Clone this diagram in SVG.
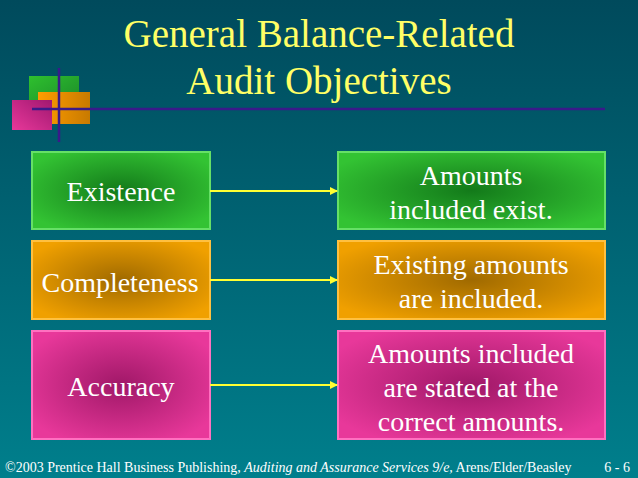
<svg xmlns="http://www.w3.org/2000/svg" width="638" height="478" viewBox="0 0 638 478">
<defs>
<linearGradient id="bg" x1="0" y1="0" x2="0" y2="1"><stop offset="0" stop-color="#004a5c"/><stop offset="1" stop-color="#007f8c"/></linearGradient>
<radialGradient id="gG" cx="0.5" cy="0.5" r="0.6"><stop offset="0" stop-color="#137a1a"/><stop offset="1" stop-color="#33c333"/></radialGradient>
<radialGradient id="gO" cx="0.5" cy="0.5" r="0.6"><stop offset="0" stop-color="#a06a00"/><stop offset="1" stop-color="#f0a000"/></radialGradient>
<radialGradient id="gP" cx="0.5" cy="0.5" r="0.6"><stop offset="0" stop-color="#a01868"/><stop offset="1" stop-color="#e8389a"/></radialGradient>
<linearGradient id="lg" x1="0" y1="0" x2="1" y2="1"><stop offset="0" stop-color="#2ec02e"/><stop offset="1" stop-color="#1c8a2a"/></linearGradient>
<linearGradient id="lo" x1="0" y1="0" x2="1" y2="0"><stop offset="0" stop-color="#ff9d00"/><stop offset="1" stop-color="#c87a00"/></linearGradient>
<linearGradient id="lp" x1="0" y1="1" x2="1" y2="0"><stop offset="0" stop-color="#e8389a"/><stop offset="1" stop-color="#a01870"/></linearGradient>
<marker id="ar" markerWidth="8" markerHeight="8" refX="7" refY="4" orient="auto" markerUnits="userSpaceOnUse"><path d="M0,0 L8,4 L0,8 z" fill="#ffff33"/></marker>
</defs>
<style>
.t{font-family:"Liberation Serif","Times New Roman",serif;fill:#ffff66;font-size:39px;text-anchor:middle}
.b{font-family:"Liberation Serif","Times New Roman",serif;fill:#ffffff;font-size:28px;text-anchor:middle}
.f{font-family:"Liberation Serif","Times New Roman",serif;fill:#ffffff;font-size:14px}
.g{stroke:#66e066;stroke-width:2}
.o{stroke:#ffc040;stroke-width:2}
.p{stroke:#ff70c0;stroke-width:2}
.c{stroke:#ffff33;stroke-width:2;fill:none}
</style>
<rect width="638" height="478" fill="url(#bg)"/>
<g id="logo">
<rect x="29" y="76" width="50" height="30" fill="url(#lg)"/>
<rect x="38" y="92" width="52" height="32" fill="url(#lo)"/>
<rect x="12" y="100" width="40" height="30" fill="url(#lp)"/>
<line x1="59" y1="68" x2="59" y2="142" stroke="#3a1a8a" stroke-width="2.5"/>
<line x1="32" y1="109" x2="605" y2="109" stroke="#3a1a8a" stroke-width="2.5"/>
</g>
<g id="title"><text class="t" x="319" y="47">General Balance-Related</text><text class="t" x="319" y="94">Audit Objectives</text></g>
<g id="existence"><rect class="g" x="32" y="152" width="178" height="77" fill="url(#gG)"/><text class="b" x="121" y="201">Existence</text></g>
<g id="completeness"><rect class="o" x="32" y="241" width="178" height="78" fill="url(#gO)"/><text class="b" x="120" y="292">Completeness</text></g>
<g id="accuracy"><rect class="p" x="32" y="331" width="178" height="108" fill="url(#gP)"/><text class="b" x="121" y="396">Accuracy</text></g>
<g id="exist2"><rect class="g" x="338" y="152" width="267" height="77" fill="url(#gG)"/><text class="b" x="471" y="185">Amounts</text><text class="b" x="471" y="219">included exist.</text></g>
<g id="comp2"><rect class="o" x="338" y="241" width="267" height="78" fill="url(#gO)"/><text class="b" x="471" y="274">Existing amounts</text><text class="b" x="471" y="308">are included.</text></g>
<g id="acc2"><rect class="p" x="338" y="331" width="267" height="108" fill="url(#gP)"/><text class="b" x="471" y="363">Amounts included</text><text class="b" x="471" y="397">are stated at the</text><text class="b" x="471" y="431">correct amounts.</text></g>
<g id="connectors">
<line class="c" x1="210" y1="191" x2="337" y2="191" marker-end="url(#ar)"/>
<line class="c" x1="210" y1="280" x2="337" y2="280" marker-end="url(#ar)"/>
<line class="c" x1="210" y1="385" x2="337" y2="385" marker-end="url(#ar)"/>
</g>
<g id="footer"><text class="f" x="5" y="472">©2003 Prentice Hall Business Publishing, <tspan font-style="italic">Auditing and Assurance Services 9/e,</tspan> Arens/Elder/Beasley</text><text class="f" x="630" y="472" text-anchor="end">6 - 6</text></g>
</svg>
